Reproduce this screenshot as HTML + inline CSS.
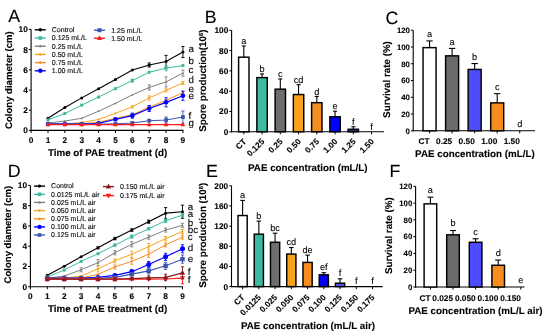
<!DOCTYPE html><html><head><meta charset="utf-8"><style>html,body{margin:0;padding:0;background:#fff;}svg{display:block;will-change:transform;}text{stroke:#000;stroke-width:0.1px;text-rendering:geometricPrecision;}text.lg{stroke-width:0.15px;}text.lt{stroke-width:0.1px;}</style></head><body>
<svg width="550" height="335" viewBox="0 0 550 335" font-family='"Liberation Sans", sans-serif'>
<rect width="550" height="335" fill="#fff"/>
<text x="14.20" y="21.61" font-size="17.8" font-weight="normal" text-anchor="middle" fill="#000">A</text>
<text x="210.80" y="22.71" font-size="17.8" font-weight="normal" text-anchor="middle" fill="#000">B</text>
<text x="391.90" y="23.81" font-size="17.8" font-weight="normal" text-anchor="middle" fill="#000">C</text>
<text x="14.10" y="176.91" font-size="17.8" font-weight="normal" text-anchor="middle" fill="#000">D</text>
<text x="211.90" y="177.01" font-size="17.8" font-weight="normal" text-anchor="middle" fill="#000">E</text>
<text x="394.90" y="177.01" font-size="17.8" font-weight="normal" text-anchor="middle" fill="#000">F</text>
<line x1="31.10" y1="29.40" x2="31.10" y2="130.90" stroke="#000" stroke-width="1.1"/>
<line x1="28.80" y1="130.40" x2="31.10" y2="130.40" stroke="#000" stroke-width="1"/>
<text x="27.80" y="133.39" font-size="8.3" font-weight="bold" text-anchor="end" fill="#000">0</text>
<line x1="28.80" y1="110.20" x2="31.10" y2="110.20" stroke="#000" stroke-width="1"/>
<text x="27.80" y="113.19" font-size="8.3" font-weight="bold" text-anchor="end" fill="#000">2</text>
<line x1="28.80" y1="90.00" x2="31.10" y2="90.00" stroke="#000" stroke-width="1"/>
<text x="27.80" y="92.99" font-size="8.3" font-weight="bold" text-anchor="end" fill="#000">4</text>
<line x1="28.80" y1="69.80" x2="31.10" y2="69.80" stroke="#000" stroke-width="1"/>
<text x="27.80" y="72.79" font-size="8.3" font-weight="bold" text-anchor="end" fill="#000">6</text>
<line x1="28.80" y1="49.60" x2="31.10" y2="49.60" stroke="#000" stroke-width="1"/>
<text x="27.80" y="52.59" font-size="8.3" font-weight="bold" text-anchor="end" fill="#000">8</text>
<line x1="28.80" y1="29.40" x2="31.10" y2="29.40" stroke="#000" stroke-width="1"/>
<text x="27.80" y="32.39" font-size="8.3" font-weight="bold" text-anchor="end" fill="#000">10</text>
<line x1="30.60" y1="130.40" x2="183.43" y2="130.40" stroke="#000" stroke-width="1.1"/>
<line x1="31.10" y1="130.40" x2="31.10" y2="133.00" stroke="#000" stroke-width="1"/>
<text x="31.10" y="142.99" font-size="8.3" font-weight="bold" text-anchor="middle" fill="#000">0</text>
<line x1="47.97" y1="130.40" x2="47.97" y2="133.00" stroke="#000" stroke-width="1"/>
<text x="47.97" y="142.99" font-size="8.3" font-weight="bold" text-anchor="middle" fill="#000">1</text>
<line x1="64.84" y1="130.40" x2="64.84" y2="133.00" stroke="#000" stroke-width="1"/>
<text x="64.84" y="142.99" font-size="8.3" font-weight="bold" text-anchor="middle" fill="#000">2</text>
<line x1="81.71" y1="130.40" x2="81.71" y2="133.00" stroke="#000" stroke-width="1"/>
<text x="81.71" y="142.99" font-size="8.3" font-weight="bold" text-anchor="middle" fill="#000">3</text>
<line x1="98.58" y1="130.40" x2="98.58" y2="133.00" stroke="#000" stroke-width="1"/>
<text x="98.58" y="142.99" font-size="8.3" font-weight="bold" text-anchor="middle" fill="#000">4</text>
<line x1="115.45" y1="130.40" x2="115.45" y2="133.00" stroke="#000" stroke-width="1"/>
<text x="115.45" y="142.99" font-size="8.3" font-weight="bold" text-anchor="middle" fill="#000">5</text>
<line x1="132.32" y1="130.40" x2="132.32" y2="133.00" stroke="#000" stroke-width="1"/>
<text x="132.32" y="142.99" font-size="8.3" font-weight="bold" text-anchor="middle" fill="#000">6</text>
<line x1="149.19" y1="130.40" x2="149.19" y2="133.00" stroke="#000" stroke-width="1"/>
<text x="149.19" y="142.99" font-size="8.3" font-weight="bold" text-anchor="middle" fill="#000">7</text>
<line x1="166.06" y1="130.40" x2="166.06" y2="133.00" stroke="#000" stroke-width="1"/>
<text x="166.06" y="142.99" font-size="8.3" font-weight="bold" text-anchor="middle" fill="#000">8</text>
<line x1="182.93" y1="130.40" x2="182.93" y2="133.00" stroke="#000" stroke-width="1"/>
<text x="182.93" y="142.99" font-size="8.3" font-weight="bold" text-anchor="middle" fill="#000">9</text>
<line x1="149.19" y1="62.93" x2="149.19" y2="66.97" stroke="#000" stroke-width="0.9"/>
<line x1="147.59" y1="62.93" x2="150.79" y2="62.93" stroke="#000" stroke-width="0.9"/>
<line x1="147.59" y1="66.97" x2="150.79" y2="66.97" stroke="#000" stroke-width="0.9"/>
<line x1="166.06" y1="55.36" x2="166.06" y2="67.48" stroke="#000" stroke-width="0.9"/>
<line x1="164.46" y1="55.36" x2="167.66" y2="55.36" stroke="#000" stroke-width="0.9"/>
<line x1="164.46" y1="67.48" x2="167.66" y2="67.48" stroke="#000" stroke-width="0.9"/>
<line x1="182.93" y1="46.47" x2="182.93" y2="57.58" stroke="#000" stroke-width="0.9"/>
<line x1="181.33" y1="46.47" x2="184.53" y2="46.47" stroke="#000" stroke-width="0.9"/>
<line x1="181.33" y1="57.58" x2="184.53" y2="57.58" stroke="#000" stroke-width="0.9"/>
<polyline points="47.97,118.28 64.84,107.47 81.71,97.88 98.58,88.69 115.45,79.50 132.32,70.00 149.19,64.95 166.06,61.42 182.93,52.02" fill="none" stroke="#000" stroke-width="1.1"/>
<circle cx="47.97" cy="118.28" r="1.50" fill="#000"/>
<circle cx="64.84" cy="107.47" r="1.50" fill="#000"/>
<circle cx="81.71" cy="97.88" r="1.50" fill="#000"/>
<circle cx="98.58" cy="88.69" r="1.50" fill="#000"/>
<circle cx="115.45" cy="79.50" r="1.50" fill="#000"/>
<circle cx="132.32" cy="70.00" r="1.50" fill="#000"/>
<circle cx="149.19" cy="64.95" r="1.50" fill="#000"/>
<circle cx="166.06" cy="61.42" r="1.50" fill="#000"/>
<circle cx="182.93" cy="52.02" r="1.50" fill="#000"/>
<line x1="132.32" y1="79.09" x2="132.32" y2="82.12" stroke="#3dbaa2" stroke-width="0.9"/>
<line x1="130.72" y1="79.09" x2="133.92" y2="79.09" stroke="#3dbaa2" stroke-width="0.9"/>
<line x1="130.72" y1="82.12" x2="133.92" y2="82.12" stroke="#3dbaa2" stroke-width="0.9"/>
<line x1="166.06" y1="65.66" x2="166.06" y2="70.71" stroke="#3dbaa2" stroke-width="0.9"/>
<line x1="164.46" y1="65.66" x2="167.66" y2="65.66" stroke="#3dbaa2" stroke-width="0.9"/>
<line x1="164.46" y1="70.71" x2="167.66" y2="70.71" stroke="#3dbaa2" stroke-width="0.9"/>
<polyline points="47.97,119.90 64.84,113.53 81.71,105.15 98.58,97.07 115.45,88.69 132.32,80.61 149.19,72.22 166.06,68.18 182.93,65.56" fill="none" stroke="#3dbaa2" stroke-width="1.0"/>
<rect x="46.47" y="118.40" width="3.00" height="3.00" fill="#3dbaa2"/>
<rect x="63.34" y="112.03" width="3.00" height="3.00" fill="#3dbaa2"/>
<rect x="80.21" y="103.65" width="3.00" height="3.00" fill="#3dbaa2"/>
<rect x="97.08" y="95.57" width="3.00" height="3.00" fill="#3dbaa2"/>
<rect x="113.95" y="87.19" width="3.00" height="3.00" fill="#3dbaa2"/>
<rect x="130.82" y="79.11" width="3.00" height="3.00" fill="#3dbaa2"/>
<rect x="147.69" y="70.72" width="3.00" height="3.00" fill="#3dbaa2"/>
<rect x="164.56" y="66.68" width="3.00" height="3.00" fill="#3dbaa2"/>
<rect x="181.43" y="64.06" width="3.00" height="3.00" fill="#3dbaa2"/>
<line x1="149.19" y1="84.95" x2="149.19" y2="90.00" stroke="#7f7f7f" stroke-width="0.9"/>
<line x1="147.59" y1="84.95" x2="150.79" y2="84.95" stroke="#7f7f7f" stroke-width="0.9"/>
<line x1="147.59" y1="90.00" x2="150.79" y2="90.00" stroke="#7f7f7f" stroke-width="0.9"/>
<line x1="166.06" y1="76.87" x2="166.06" y2="86.97" stroke="#7f7f7f" stroke-width="0.9"/>
<line x1="164.46" y1="76.87" x2="167.66" y2="76.87" stroke="#7f7f7f" stroke-width="0.9"/>
<line x1="164.46" y1="86.97" x2="167.66" y2="86.97" stroke="#7f7f7f" stroke-width="0.9"/>
<line x1="182.93" y1="70.00" x2="182.93" y2="76.06" stroke="#7f7f7f" stroke-width="0.9"/>
<line x1="181.33" y1="70.00" x2="184.53" y2="70.00" stroke="#7f7f7f" stroke-width="0.9"/>
<line x1="181.33" y1="76.06" x2="184.53" y2="76.06" stroke="#7f7f7f" stroke-width="0.9"/>
<polyline points="47.97,123.03 64.84,121.01 81.71,118.28 98.58,111.21 115.45,103.33 132.32,94.85 149.19,87.48 166.06,81.92 182.93,73.03" fill="none" stroke="#7f7f7f" stroke-width="1.0"/>
<polygon points="47.97,121.65 49.17,123.93 46.77,123.93" fill="#7f7f7f"/>
<polygon points="64.84,119.63 66.04,121.91 63.64,121.91" fill="#7f7f7f"/>
<polygon points="81.71,116.90 82.91,119.18 80.51,119.18" fill="#7f7f7f"/>
<polygon points="98.58,109.83 99.78,112.11 97.38,112.11" fill="#7f7f7f"/>
<polygon points="115.45,101.95 116.65,104.23 114.25,104.23" fill="#7f7f7f"/>
<polygon points="132.32,93.47 133.52,95.75 131.12,95.75" fill="#7f7f7f"/>
<polygon points="149.19,86.10 150.39,88.38 147.99,88.38" fill="#7f7f7f"/>
<polygon points="166.06,80.54 167.26,82.82 164.86,82.82" fill="#7f7f7f"/>
<polygon points="182.93,71.65 184.13,73.93 181.73,73.93" fill="#7f7f7f"/>
<line x1="132.32" y1="105.86" x2="132.32" y2="107.88" stroke="#f7a31c" stroke-width="0.9"/>
<line x1="130.72" y1="105.86" x2="133.92" y2="105.86" stroke="#f7a31c" stroke-width="0.9"/>
<line x1="130.72" y1="107.88" x2="133.92" y2="107.88" stroke="#f7a31c" stroke-width="0.9"/>
<line x1="149.19" y1="95.86" x2="149.19" y2="99.90" stroke="#f7a31c" stroke-width="0.9"/>
<line x1="147.59" y1="95.86" x2="150.79" y2="95.86" stroke="#f7a31c" stroke-width="0.9"/>
<line x1="147.59" y1="99.90" x2="150.79" y2="99.90" stroke="#f7a31c" stroke-width="0.9"/>
<line x1="166.06" y1="88.89" x2="166.06" y2="91.92" stroke="#f7a31c" stroke-width="0.9"/>
<line x1="164.46" y1="88.89" x2="167.66" y2="88.89" stroke="#f7a31c" stroke-width="0.9"/>
<line x1="164.46" y1="91.92" x2="167.66" y2="91.92" stroke="#f7a31c" stroke-width="0.9"/>
<line x1="182.93" y1="81.42" x2="182.93" y2="84.45" stroke="#f7a31c" stroke-width="0.9"/>
<line x1="181.33" y1="81.42" x2="184.53" y2="81.42" stroke="#f7a31c" stroke-width="0.9"/>
<line x1="181.33" y1="84.45" x2="184.53" y2="84.45" stroke="#f7a31c" stroke-width="0.9"/>
<polyline points="47.97,124.34 64.84,124.14 81.71,122.52 98.58,119.49 115.45,113.23 132.32,106.87 149.19,97.88 166.06,90.40 182.93,82.93" fill="none" stroke="#f7a31c" stroke-width="1.0"/>
<polygon points="47.97,123.04 49.27,124.34 47.97,125.64 46.67,124.34" fill="#f7a31c"/>
<polygon points="64.84,122.84 66.14,124.14 64.84,125.44 63.54,124.14" fill="#f7a31c"/>
<polygon points="81.71,121.22 83.01,122.52 81.71,123.82 80.41,122.52" fill="#f7a31c"/>
<polygon points="98.58,118.19 99.88,119.49 98.58,120.79 97.28,119.49" fill="#f7a31c"/>
<polygon points="115.45,111.93 116.75,113.23 115.45,114.53 114.15,113.23" fill="#f7a31c"/>
<polygon points="132.32,105.57 133.62,106.87 132.32,108.17 131.02,106.87" fill="#f7a31c"/>
<polygon points="149.19,96.58 150.49,97.88 149.19,99.18 147.89,97.88" fill="#f7a31c"/>
<polygon points="166.06,89.10 167.36,90.40 166.06,91.70 164.76,90.40" fill="#f7a31c"/>
<polygon points="182.93,81.63 184.23,82.93 182.93,84.23 181.63,82.93" fill="#f7a31c"/>
<line x1="149.19" y1="105.66" x2="149.19" y2="108.69" stroke="#f68d21" stroke-width="0.9"/>
<line x1="147.59" y1="105.66" x2="150.79" y2="105.66" stroke="#f68d21" stroke-width="0.9"/>
<line x1="147.59" y1="108.69" x2="150.79" y2="108.69" stroke="#f68d21" stroke-width="0.9"/>
<line x1="166.06" y1="99.39" x2="166.06" y2="101.41" stroke="#f68d21" stroke-width="0.9"/>
<line x1="164.46" y1="99.39" x2="167.66" y2="99.39" stroke="#f68d21" stroke-width="0.9"/>
<line x1="164.46" y1="101.41" x2="167.66" y2="101.41" stroke="#f68d21" stroke-width="0.9"/>
<line x1="182.93" y1="91.01" x2="182.93" y2="94.04" stroke="#f68d21" stroke-width="0.9"/>
<line x1="181.33" y1="91.01" x2="184.53" y2="91.01" stroke="#f68d21" stroke-width="0.9"/>
<line x1="181.33" y1="94.04" x2="184.53" y2="94.04" stroke="#f68d21" stroke-width="0.9"/>
<polyline points="47.97,124.34 64.84,124.34 81.71,123.84 98.58,122.32 115.45,118.28 132.32,114.64 149.19,107.17 166.06,100.40 182.93,92.53" fill="none" stroke="#f68d21" stroke-width="1.0"/>
<polygon points="47.97,123.04 49.27,124.34 47.97,125.64 46.67,124.34" fill="#f68d21"/>
<polygon points="64.84,123.04 66.14,124.34 64.84,125.64 63.54,124.34" fill="#f68d21"/>
<polygon points="81.71,122.54 83.01,123.84 81.71,125.14 80.41,123.84" fill="#f68d21"/>
<polygon points="98.58,121.02 99.88,122.32 98.58,123.62 97.28,122.32" fill="#f68d21"/>
<polygon points="115.45,116.98 116.75,118.28 115.45,119.58 114.15,118.28" fill="#f68d21"/>
<polygon points="132.32,113.34 133.62,114.64 132.32,115.94 131.02,114.64" fill="#f68d21"/>
<polygon points="149.19,105.87 150.49,107.17 149.19,108.47 147.89,107.17" fill="#f68d21"/>
<polygon points="166.06,99.10 167.36,100.40 166.06,101.70 164.76,100.40" fill="#f68d21"/>
<polygon points="182.93,91.23 184.23,92.53 182.93,93.83 181.63,92.53" fill="#f68d21"/>
<line x1="132.32" y1="113.13" x2="132.32" y2="118.18" stroke="#0000ff" stroke-width="0.9"/>
<line x1="130.72" y1="113.13" x2="133.92" y2="113.13" stroke="#0000ff" stroke-width="0.9"/>
<line x1="130.72" y1="118.18" x2="133.92" y2="118.18" stroke="#0000ff" stroke-width="0.9"/>
<line x1="149.19" y1="105.45" x2="149.19" y2="111.51" stroke="#0000ff" stroke-width="0.9"/>
<line x1="147.59" y1="105.45" x2="150.79" y2="105.45" stroke="#0000ff" stroke-width="0.9"/>
<line x1="147.59" y1="111.51" x2="150.79" y2="111.51" stroke="#0000ff" stroke-width="0.9"/>
<line x1="166.06" y1="97.78" x2="166.06" y2="106.87" stroke="#0000ff" stroke-width="0.9"/>
<line x1="164.46" y1="97.78" x2="167.66" y2="97.78" stroke="#0000ff" stroke-width="0.9"/>
<line x1="164.46" y1="106.87" x2="167.66" y2="106.87" stroke="#0000ff" stroke-width="0.9"/>
<line x1="182.93" y1="91.21" x2="182.93" y2="100.30" stroke="#0000ff" stroke-width="0.9"/>
<line x1="181.33" y1="91.21" x2="184.53" y2="91.21" stroke="#0000ff" stroke-width="0.9"/>
<line x1="181.33" y1="100.30" x2="184.53" y2="100.30" stroke="#0000ff" stroke-width="0.9"/>
<polyline points="47.97,123.94 64.84,123.94 81.71,123.94 98.58,123.33 115.45,119.29 132.32,115.65 149.19,108.48 166.06,102.32 182.93,95.76" fill="none" stroke="#0000ff" stroke-width="1.2"/>
<circle cx="47.97" cy="123.94" r="2.30" fill="#0000ff"/>
<circle cx="64.84" cy="123.94" r="2.30" fill="#0000ff"/>
<circle cx="81.71" cy="123.94" r="2.30" fill="#0000ff"/>
<circle cx="98.58" cy="123.33" r="2.30" fill="#0000ff"/>
<circle cx="115.45" cy="119.29" r="2.30" fill="#0000ff"/>
<circle cx="132.32" cy="115.65" r="2.30" fill="#0000ff"/>
<circle cx="149.19" cy="108.48" r="2.30" fill="#0000ff"/>
<circle cx="166.06" cy="102.32" r="2.30" fill="#0000ff"/>
<circle cx="182.93" cy="95.76" r="2.30" fill="#0000ff"/>
<line x1="166.06" y1="116.97" x2="166.06" y2="123.03" stroke="#3a56b0" stroke-width="0.9"/>
<line x1="164.46" y1="116.97" x2="167.66" y2="116.97" stroke="#3a56b0" stroke-width="0.9"/>
<line x1="164.46" y1="123.03" x2="167.66" y2="123.03" stroke="#3a56b0" stroke-width="0.9"/>
<line x1="182.93" y1="111.01" x2="182.93" y2="123.13" stroke="#3a56b0" stroke-width="0.9"/>
<line x1="181.33" y1="111.01" x2="184.53" y2="111.01" stroke="#3a56b0" stroke-width="0.9"/>
<line x1="181.33" y1="123.13" x2="184.53" y2="123.13" stroke="#3a56b0" stroke-width="0.9"/>
<polyline points="47.97,124.14 64.84,124.14 81.71,124.14 98.58,124.14 115.45,123.73 132.32,122.93 149.19,120.70 166.06,120.00 182.93,117.07" fill="none" stroke="#3a56b0" stroke-width="1.1"/>
<rect x="46.07" y="122.24" width="3.80" height="3.80" fill="#3a56b0"/>
<rect x="62.94" y="122.24" width="3.80" height="3.80" fill="#3a56b0"/>
<rect x="79.81" y="122.24" width="3.80" height="3.80" fill="#3a56b0"/>
<rect x="96.68" y="122.24" width="3.80" height="3.80" fill="#3a56b0"/>
<rect x="113.55" y="121.83" width="3.80" height="3.80" fill="#3a56b0"/>
<rect x="130.42" y="121.03" width="3.80" height="3.80" fill="#3a56b0"/>
<rect x="147.29" y="118.80" width="3.80" height="3.80" fill="#3a56b0"/>
<rect x="164.16" y="118.10" width="3.80" height="3.80" fill="#3a56b0"/>
<rect x="181.03" y="115.17" width="3.80" height="3.80" fill="#3a56b0"/>
<polyline points="47.97,124.64 64.84,124.64 81.71,124.64 98.58,124.64 115.45,124.64 132.32,124.64 149.19,124.64 166.06,124.64 182.93,124.64" fill="none" stroke="#ff1a1a" stroke-width="1.2"/>
<polygon points="47.97,122.00 50.27,126.37 45.67,126.37" fill="#ff1a1a"/>
<polygon points="64.84,122.00 67.14,126.37 62.54,126.37" fill="#ff1a1a"/>
<polygon points="81.71,122.00 84.01,126.37 79.41,126.37" fill="#ff1a1a"/>
<polygon points="98.58,122.00 100.88,126.37 96.28,126.37" fill="#ff1a1a"/>
<polygon points="115.45,122.00 117.75,126.37 113.15,126.37" fill="#ff1a1a"/>
<polygon points="132.32,122.00 134.62,126.37 130.02,126.37" fill="#ff1a1a"/>
<polygon points="149.19,122.00 151.49,126.37 146.89,126.37" fill="#ff1a1a"/>
<polygon points="166.06,122.00 168.36,126.37 163.76,126.37" fill="#ff1a1a"/>
<polygon points="182.93,122.00 185.23,126.37 180.63,126.37" fill="#ff1a1a"/>
<text class="lt" x="188.60" y="52.04" font-size="9.8" font-weight="normal" text-anchor="start" fill="#000">a</text>
<text class="lt" x="188.60" y="64.24" font-size="9.8" font-weight="normal" text-anchor="start" fill="#000">b</text>
<text class="lt" x="188.60" y="72.74" font-size="9.8" font-weight="normal" text-anchor="start" fill="#000">c</text>
<text class="lt" x="188.60" y="82.74" font-size="9.8" font-weight="normal" text-anchor="start" fill="#000">d</text>
<text class="lt" x="188.60" y="91.54" font-size="9.8" font-weight="normal" text-anchor="start" fill="#000">e</text>
<text class="lt" x="188.60" y="99.04" font-size="9.8" font-weight="normal" text-anchor="start" fill="#000">e</text>
<text class="lt" x="188.60" y="118.54" font-size="9.8" font-weight="normal" text-anchor="start" fill="#000">f</text>
<text class="lt" x="188.60" y="125.74" font-size="9.8" font-weight="normal" text-anchor="start" fill="#000">g</text>
<line x1="34.80" y1="29.80" x2="45.80" y2="29.80" stroke="#000" stroke-width="1.4"/>
<circle cx="40.30" cy="29.80" r="1.70" fill="#000"/>
<text class="lg" x="51.80" y="32.18" font-size="7.0" font-weight="normal" text-anchor="start" fill="#1a1a1a">Control</text>
<line x1="34.80" y1="38.00" x2="45.80" y2="38.00" stroke="#3dbaa2" stroke-width="1.4"/>
<rect x="38.50" y="36.20" width="3.60" height="3.60" fill="#3dbaa2"/>
<text class="lg" x="51.80" y="40.38" font-size="7.0" font-weight="normal" text-anchor="start" fill="#1a1a1a">0.125 mL/L</text>
<line x1="34.80" y1="46.20" x2="45.80" y2="46.20" stroke="#7f7f7f" stroke-width="1.4"/>
<polygon points="40.30,44.59 41.70,47.25 38.90,47.25" fill="#7f7f7f"/>
<text class="lg" x="51.80" y="48.58" font-size="7.0" font-weight="normal" text-anchor="start" fill="#1a1a1a">0.25 mL/L</text>
<line x1="34.80" y1="54.40" x2="45.80" y2="54.40" stroke="#f7a31c" stroke-width="1.4"/>
<polygon points="40.30,52.80 41.90,54.40 40.30,56.00 38.70,54.40" fill="#f7a31c"/>
<text class="lg" x="51.80" y="56.78" font-size="7.0" font-weight="normal" text-anchor="start" fill="#1a1a1a">0.50 mL/L</text>
<line x1="34.80" y1="62.60" x2="45.80" y2="62.60" stroke="#f68d21" stroke-width="1.4"/>
<polygon points="40.30,61.00 41.90,62.60 40.30,64.20 38.70,62.60" fill="#f68d21"/>
<text class="lg" x="51.80" y="64.98" font-size="7.0" font-weight="normal" text-anchor="start" fill="#1a1a1a">0.75 mL/L</text>
<line x1="34.80" y1="70.80" x2="45.80" y2="70.80" stroke="#0000ff" stroke-width="1.4"/>
<circle cx="40.30" cy="70.80" r="2.20" fill="#0000ff"/>
<text class="lg" x="51.80" y="73.18" font-size="7.0" font-weight="normal" text-anchor="start" fill="#1a1a1a">1.00 mL/L</text>
<line x1="94.00" y1="30.20" x2="105.00" y2="30.20" stroke="#3a56b0" stroke-width="1.4"/>
<rect x="97.50" y="28.20" width="4.00" height="4.00" fill="#3a56b0"/>
<text class="lg" x="111.20" y="32.58" font-size="7.0" font-weight="normal" text-anchor="start" fill="#1a1a1a">1.25 mL/L</text>
<line x1="94.00" y1="38.20" x2="105.00" y2="38.20" stroke="#ff1a1a" stroke-width="1.4"/>
<polygon points="99.50,35.33 102.00,40.08 97.00,40.08" fill="#ff1a1a"/>
<text class="lg" x="111.20" y="40.58" font-size="7.0" font-weight="normal" text-anchor="start" fill="#1a1a1a">1.50 mL/L</text>
<text x="107.60" y="155.63" font-size="9.8" font-weight="bold" text-anchor="middle" fill="#000">Time of PAE treatment (d)</text>
<text x="9.50" y="82.96" font-size="9.55" font-weight="bold" text-anchor="middle" fill="#000" transform="rotate(-90 9.50 80.10)">Colony diameter (cm)</text>
<line x1="30.40" y1="185.40" x2="30.40" y2="287.20" stroke="#000" stroke-width="1.1"/>
<line x1="28.10" y1="286.70" x2="30.40" y2="286.70" stroke="#000" stroke-width="1"/>
<text x="27.10" y="289.69" font-size="8.3" font-weight="bold" text-anchor="end" fill="#000">0</text>
<line x1="28.10" y1="266.44" x2="30.40" y2="266.44" stroke="#000" stroke-width="1"/>
<text x="27.10" y="269.43" font-size="8.3" font-weight="bold" text-anchor="end" fill="#000">2</text>
<line x1="28.10" y1="246.18" x2="30.40" y2="246.18" stroke="#000" stroke-width="1"/>
<text x="27.10" y="249.17" font-size="8.3" font-weight="bold" text-anchor="end" fill="#000">4</text>
<line x1="28.10" y1="225.92" x2="30.40" y2="225.92" stroke="#000" stroke-width="1"/>
<text x="27.10" y="228.91" font-size="8.3" font-weight="bold" text-anchor="end" fill="#000">6</text>
<line x1="28.10" y1="205.66" x2="30.40" y2="205.66" stroke="#000" stroke-width="1"/>
<text x="27.10" y="208.65" font-size="8.3" font-weight="bold" text-anchor="end" fill="#000">8</text>
<line x1="28.10" y1="185.40" x2="30.40" y2="185.40" stroke="#000" stroke-width="1"/>
<text x="27.10" y="188.39" font-size="8.3" font-weight="bold" text-anchor="end" fill="#000">10</text>
<line x1="29.90" y1="286.70" x2="183.00" y2="286.70" stroke="#000" stroke-width="1.1"/>
<line x1="30.40" y1="286.70" x2="30.40" y2="289.30" stroke="#000" stroke-width="1"/>
<text x="30.40" y="299.29" font-size="8.3" font-weight="bold" text-anchor="middle" fill="#000">0</text>
<line x1="47.30" y1="286.70" x2="47.30" y2="289.30" stroke="#000" stroke-width="1"/>
<text x="47.30" y="299.29" font-size="8.3" font-weight="bold" text-anchor="middle" fill="#000">1</text>
<line x1="64.20" y1="286.70" x2="64.20" y2="289.30" stroke="#000" stroke-width="1"/>
<text x="64.20" y="299.29" font-size="8.3" font-weight="bold" text-anchor="middle" fill="#000">2</text>
<line x1="81.10" y1="286.70" x2="81.10" y2="289.30" stroke="#000" stroke-width="1"/>
<text x="81.10" y="299.29" font-size="8.3" font-weight="bold" text-anchor="middle" fill="#000">3</text>
<line x1="98.00" y1="286.70" x2="98.00" y2="289.30" stroke="#000" stroke-width="1"/>
<text x="98.00" y="299.29" font-size="8.3" font-weight="bold" text-anchor="middle" fill="#000">4</text>
<line x1="114.90" y1="286.70" x2="114.90" y2="289.30" stroke="#000" stroke-width="1"/>
<text x="114.90" y="299.29" font-size="8.3" font-weight="bold" text-anchor="middle" fill="#000">5</text>
<line x1="131.80" y1="286.70" x2="131.80" y2="289.30" stroke="#000" stroke-width="1"/>
<text x="131.80" y="299.29" font-size="8.3" font-weight="bold" text-anchor="middle" fill="#000">6</text>
<line x1="148.70" y1="286.70" x2="148.70" y2="289.30" stroke="#000" stroke-width="1"/>
<text x="148.70" y="299.29" font-size="8.3" font-weight="bold" text-anchor="middle" fill="#000">7</text>
<line x1="165.60" y1="286.70" x2="165.60" y2="289.30" stroke="#000" stroke-width="1"/>
<text x="165.60" y="299.29" font-size="8.3" font-weight="bold" text-anchor="middle" fill="#000">8</text>
<line x1="182.50" y1="286.70" x2="182.50" y2="289.30" stroke="#000" stroke-width="1"/>
<text x="182.50" y="299.29" font-size="8.3" font-weight="bold" text-anchor="middle" fill="#000">9</text>
<line x1="98.00" y1="246.79" x2="98.00" y2="248.81" stroke="#000" stroke-width="0.9"/>
<line x1="96.40" y1="246.79" x2="99.60" y2="246.79" stroke="#000" stroke-width="0.9"/>
<line x1="96.40" y1="248.81" x2="99.60" y2="248.81" stroke="#000" stroke-width="0.9"/>
<line x1="114.90" y1="237.37" x2="114.90" y2="239.80" stroke="#000" stroke-width="0.9"/>
<line x1="113.30" y1="237.37" x2="116.50" y2="237.37" stroke="#000" stroke-width="0.9"/>
<line x1="113.30" y1="239.80" x2="116.50" y2="239.80" stroke="#000" stroke-width="0.9"/>
<line x1="131.80" y1="228.86" x2="131.80" y2="231.29" stroke="#000" stroke-width="0.9"/>
<line x1="130.20" y1="228.86" x2="133.40" y2="228.86" stroke="#000" stroke-width="0.9"/>
<line x1="130.20" y1="231.29" x2="133.40" y2="231.29" stroke="#000" stroke-width="0.9"/>
<line x1="148.70" y1="220.15" x2="148.70" y2="223.18" stroke="#000" stroke-width="0.9"/>
<line x1="147.10" y1="220.15" x2="150.30" y2="220.15" stroke="#000" stroke-width="0.9"/>
<line x1="147.10" y1="223.18" x2="150.30" y2="223.18" stroke="#000" stroke-width="0.9"/>
<line x1="165.60" y1="207.58" x2="165.60" y2="218.73" stroke="#000" stroke-width="0.9"/>
<line x1="164.00" y1="207.58" x2="167.20" y2="207.58" stroke="#000" stroke-width="0.9"/>
<line x1="164.00" y1="218.73" x2="167.20" y2="218.73" stroke="#000" stroke-width="0.9"/>
<line x1="182.50" y1="205.15" x2="182.50" y2="218.32" stroke="#000" stroke-width="0.9"/>
<line x1="180.90" y1="205.15" x2="184.10" y2="205.15" stroke="#000" stroke-width="0.9"/>
<line x1="180.90" y1="218.32" x2="184.10" y2="218.32" stroke="#000" stroke-width="0.9"/>
<polyline points="47.30,275.15 64.20,266.24 81.10,256.82 98.00,247.80 114.90,238.58 131.80,230.07 148.70,221.67 165.60,213.16 182.50,211.74" fill="none" stroke="#000" stroke-width="1.1"/>
<circle cx="47.30" cy="275.15" r="1.50" fill="#000"/>
<circle cx="64.20" cy="266.24" r="1.50" fill="#000"/>
<circle cx="81.10" cy="256.82" r="1.50" fill="#000"/>
<circle cx="98.00" cy="247.80" r="1.50" fill="#000"/>
<circle cx="114.90" cy="238.58" r="1.50" fill="#000"/>
<circle cx="131.80" cy="230.07" r="1.50" fill="#000"/>
<circle cx="148.70" cy="221.67" r="1.50" fill="#000"/>
<circle cx="165.60" cy="213.16" r="1.50" fill="#000"/>
<circle cx="182.50" cy="211.74" r="1.50" fill="#000"/>
<line x1="114.90" y1="244.15" x2="114.90" y2="246.18" stroke="#3dbaa2" stroke-width="0.9"/>
<line x1="113.30" y1="244.15" x2="116.50" y2="244.15" stroke="#3dbaa2" stroke-width="0.9"/>
<line x1="113.30" y1="246.18" x2="116.50" y2="246.18" stroke="#3dbaa2" stroke-width="0.9"/>
<line x1="131.80" y1="235.04" x2="131.80" y2="238.08" stroke="#3dbaa2" stroke-width="0.9"/>
<line x1="130.20" y1="235.04" x2="133.40" y2="235.04" stroke="#3dbaa2" stroke-width="0.9"/>
<line x1="130.20" y1="238.08" x2="133.40" y2="238.08" stroke="#3dbaa2" stroke-width="0.9"/>
<line x1="148.70" y1="227.74" x2="148.70" y2="229.77" stroke="#3dbaa2" stroke-width="0.9"/>
<line x1="147.10" y1="227.74" x2="150.30" y2="227.74" stroke="#3dbaa2" stroke-width="0.9"/>
<line x1="147.10" y1="229.77" x2="150.30" y2="229.77" stroke="#3dbaa2" stroke-width="0.9"/>
<line x1="165.60" y1="219.23" x2="165.60" y2="222.27" stroke="#3dbaa2" stroke-width="0.9"/>
<line x1="164.00" y1="219.23" x2="167.20" y2="219.23" stroke="#3dbaa2" stroke-width="0.9"/>
<line x1="164.00" y1="222.27" x2="167.20" y2="222.27" stroke="#3dbaa2" stroke-width="0.9"/>
<line x1="182.50" y1="213.66" x2="182.50" y2="216.70" stroke="#3dbaa2" stroke-width="0.9"/>
<line x1="180.90" y1="213.66" x2="184.10" y2="213.66" stroke="#3dbaa2" stroke-width="0.9"/>
<line x1="180.90" y1="216.70" x2="184.10" y2="216.70" stroke="#3dbaa2" stroke-width="0.9"/>
<polyline points="47.30,276.87 64.20,270.09 81.10,261.38 98.00,253.68 114.90,245.17 131.80,236.56 148.70,228.76 165.60,220.75 182.50,215.18" fill="none" stroke="#3dbaa2" stroke-width="1.0"/>
<rect x="45.80" y="275.37" width="3.00" height="3.00" fill="#3dbaa2"/>
<rect x="62.70" y="268.59" width="3.00" height="3.00" fill="#3dbaa2"/>
<rect x="79.60" y="259.88" width="3.00" height="3.00" fill="#3dbaa2"/>
<rect x="96.50" y="252.18" width="3.00" height="3.00" fill="#3dbaa2"/>
<rect x="113.40" y="243.67" width="3.00" height="3.00" fill="#3dbaa2"/>
<rect x="130.30" y="235.06" width="3.00" height="3.00" fill="#3dbaa2"/>
<rect x="147.20" y="227.26" width="3.00" height="3.00" fill="#3dbaa2"/>
<rect x="164.10" y="219.25" width="3.00" height="3.00" fill="#3dbaa2"/>
<rect x="181.00" y="213.68" width="3.00" height="3.00" fill="#3dbaa2"/>
<line x1="81.10" y1="267.76" x2="81.10" y2="271.81" stroke="#7f7f7f" stroke-width="0.9"/>
<line x1="79.50" y1="267.76" x2="82.70" y2="267.76" stroke="#7f7f7f" stroke-width="0.9"/>
<line x1="79.50" y1="271.81" x2="82.70" y2="271.81" stroke="#7f7f7f" stroke-width="0.9"/>
<line x1="98.00" y1="259.65" x2="98.00" y2="265.73" stroke="#7f7f7f" stroke-width="0.9"/>
<line x1="96.40" y1="259.65" x2="99.60" y2="259.65" stroke="#7f7f7f" stroke-width="0.9"/>
<line x1="96.40" y1="265.73" x2="99.60" y2="265.73" stroke="#7f7f7f" stroke-width="0.9"/>
<line x1="114.90" y1="250.74" x2="114.90" y2="254.79" stroke="#7f7f7f" stroke-width="0.9"/>
<line x1="113.30" y1="250.74" x2="116.50" y2="250.74" stroke="#7f7f7f" stroke-width="0.9"/>
<line x1="113.30" y1="254.79" x2="116.50" y2="254.79" stroke="#7f7f7f" stroke-width="0.9"/>
<line x1="131.80" y1="241.72" x2="131.80" y2="246.79" stroke="#7f7f7f" stroke-width="0.9"/>
<line x1="130.20" y1="241.72" x2="133.40" y2="241.72" stroke="#7f7f7f" stroke-width="0.9"/>
<line x1="130.20" y1="246.79" x2="133.40" y2="246.79" stroke="#7f7f7f" stroke-width="0.9"/>
<line x1="148.70" y1="235.14" x2="148.70" y2="239.19" stroke="#7f7f7f" stroke-width="0.9"/>
<line x1="147.10" y1="235.14" x2="150.30" y2="235.14" stroke="#7f7f7f" stroke-width="0.9"/>
<line x1="147.10" y1="239.19" x2="150.30" y2="239.19" stroke="#7f7f7f" stroke-width="0.9"/>
<line x1="165.60" y1="228.05" x2="165.60" y2="232.10" stroke="#7f7f7f" stroke-width="0.9"/>
<line x1="164.00" y1="228.05" x2="167.20" y2="228.05" stroke="#7f7f7f" stroke-width="0.9"/>
<line x1="164.00" y1="232.10" x2="167.20" y2="232.10" stroke="#7f7f7f" stroke-width="0.9"/>
<line x1="182.50" y1="223.29" x2="182.50" y2="227.34" stroke="#7f7f7f" stroke-width="0.9"/>
<line x1="180.90" y1="223.29" x2="184.10" y2="223.29" stroke="#7f7f7f" stroke-width="0.9"/>
<line x1="180.90" y1="227.34" x2="184.10" y2="227.34" stroke="#7f7f7f" stroke-width="0.9"/>
<polyline points="47.30,278.19 64.20,276.06 81.10,269.78 98.00,262.69 114.90,252.76 131.80,244.26 148.70,237.16 165.60,230.07 182.50,225.31" fill="none" stroke="#7f7f7f" stroke-width="1.0"/>
<polygon points="47.30,276.81 48.50,279.09 46.10,279.09" fill="#7f7f7f"/>
<polygon points="64.20,274.68 65.40,276.96 63.00,276.96" fill="#7f7f7f"/>
<polygon points="81.10,268.40 82.30,270.68 79.90,270.68" fill="#7f7f7f"/>
<polygon points="98.00,261.31 99.20,263.59 96.80,263.59" fill="#7f7f7f"/>
<polygon points="114.90,251.38 116.10,253.66 113.70,253.66" fill="#7f7f7f"/>
<polygon points="131.80,242.88 133.00,245.16 130.60,245.16" fill="#7f7f7f"/>
<polygon points="148.70,235.78 149.90,238.06 147.50,238.06" fill="#7f7f7f"/>
<polygon points="165.60,228.69 166.80,230.97 164.40,230.97" fill="#7f7f7f"/>
<polygon points="182.50,223.93 183.70,226.21 181.30,226.21" fill="#7f7f7f"/>
<line x1="98.00" y1="265.83" x2="98.00" y2="271.91" stroke="#f7a31c" stroke-width="0.9"/>
<line x1="96.40" y1="265.83" x2="99.60" y2="265.83" stroke="#f7a31c" stroke-width="0.9"/>
<line x1="96.40" y1="271.91" x2="99.60" y2="271.91" stroke="#f7a31c" stroke-width="0.9"/>
<line x1="114.90" y1="258.74" x2="114.90" y2="262.79" stroke="#f7a31c" stroke-width="0.9"/>
<line x1="113.30" y1="258.74" x2="116.50" y2="258.74" stroke="#f7a31c" stroke-width="0.9"/>
<line x1="113.30" y1="262.79" x2="116.50" y2="262.79" stroke="#f7a31c" stroke-width="0.9"/>
<line x1="131.80" y1="251.25" x2="131.80" y2="257.32" stroke="#f7a31c" stroke-width="0.9"/>
<line x1="130.20" y1="251.25" x2="133.40" y2="251.25" stroke="#f7a31c" stroke-width="0.9"/>
<line x1="130.20" y1="257.32" x2="133.40" y2="257.32" stroke="#f7a31c" stroke-width="0.9"/>
<line x1="148.70" y1="243.55" x2="148.70" y2="249.62" stroke="#f7a31c" stroke-width="0.9"/>
<line x1="147.10" y1="243.55" x2="150.30" y2="243.55" stroke="#f7a31c" stroke-width="0.9"/>
<line x1="147.10" y1="249.62" x2="150.30" y2="249.62" stroke="#f7a31c" stroke-width="0.9"/>
<line x1="165.60" y1="236.56" x2="165.60" y2="240.61" stroke="#f7a31c" stroke-width="0.9"/>
<line x1="164.00" y1="236.56" x2="167.20" y2="236.56" stroke="#f7a31c" stroke-width="0.9"/>
<line x1="164.00" y1="240.61" x2="167.20" y2="240.61" stroke="#f7a31c" stroke-width="0.9"/>
<line x1="182.50" y1="229.47" x2="182.50" y2="233.52" stroke="#f7a31c" stroke-width="0.9"/>
<line x1="180.90" y1="229.47" x2="184.10" y2="229.47" stroke="#f7a31c" stroke-width="0.9"/>
<line x1="180.90" y1="233.52" x2="184.10" y2="233.52" stroke="#f7a31c" stroke-width="0.9"/>
<polyline points="47.30,278.19 64.20,278.19 81.10,276.06 98.00,268.87 114.90,260.77 131.80,254.28 148.70,246.59 165.60,238.58 182.50,231.49" fill="none" stroke="#f7a31c" stroke-width="1.0"/>
<polygon points="47.30,276.89 48.60,278.19 47.30,279.49 46.00,278.19" fill="#f7a31c"/>
<polygon points="64.20,276.89 65.50,278.19 64.20,279.49 62.90,278.19" fill="#f7a31c"/>
<polygon points="81.10,274.76 82.40,276.06 81.10,277.36 79.80,276.06" fill="#f7a31c"/>
<polygon points="98.00,267.57 99.30,268.87 98.00,270.17 96.70,268.87" fill="#f7a31c"/>
<polygon points="114.90,259.47 116.20,260.77 114.90,262.07 113.60,260.77" fill="#f7a31c"/>
<polygon points="131.80,252.98 133.10,254.28 131.80,255.58 130.50,254.28" fill="#f7a31c"/>
<polygon points="148.70,245.29 150.00,246.59 148.70,247.89 147.40,246.59" fill="#f7a31c"/>
<polygon points="165.60,237.28 166.90,238.58 165.60,239.88 164.30,238.58" fill="#f7a31c"/>
<polygon points="182.50,230.19 183.80,231.49 182.50,232.79 181.20,231.49" fill="#f7a31c"/>
<line x1="114.90" y1="264.92" x2="114.90" y2="268.97" stroke="#f68d21" stroke-width="0.9"/>
<line x1="113.30" y1="264.92" x2="116.50" y2="264.92" stroke="#f68d21" stroke-width="0.9"/>
<line x1="113.30" y1="268.97" x2="116.50" y2="268.97" stroke="#f68d21" stroke-width="0.9"/>
<line x1="131.80" y1="258.23" x2="131.80" y2="264.31" stroke="#f68d21" stroke-width="0.9"/>
<line x1="130.20" y1="258.23" x2="133.40" y2="258.23" stroke="#f68d21" stroke-width="0.9"/>
<line x1="130.20" y1="264.31" x2="133.40" y2="264.31" stroke="#f68d21" stroke-width="0.9"/>
<line x1="148.70" y1="251.25" x2="148.70" y2="257.32" stroke="#f68d21" stroke-width="0.9"/>
<line x1="147.10" y1="251.25" x2="150.30" y2="251.25" stroke="#f68d21" stroke-width="0.9"/>
<line x1="147.10" y1="257.32" x2="150.30" y2="257.32" stroke="#f68d21" stroke-width="0.9"/>
<line x1="165.60" y1="242.84" x2="165.60" y2="246.89" stroke="#f68d21" stroke-width="0.9"/>
<line x1="164.00" y1="242.84" x2="167.20" y2="242.84" stroke="#f68d21" stroke-width="0.9"/>
<line x1="164.00" y1="246.89" x2="167.20" y2="246.89" stroke="#f68d21" stroke-width="0.9"/>
<line x1="182.50" y1="235.14" x2="182.50" y2="239.19" stroke="#f68d21" stroke-width="0.9"/>
<line x1="180.90" y1="235.14" x2="184.10" y2="235.14" stroke="#f68d21" stroke-width="0.9"/>
<line x1="180.90" y1="239.19" x2="184.10" y2="239.19" stroke="#f68d21" stroke-width="0.9"/>
<polyline points="47.30,278.19 64.20,278.19 81.10,278.19 98.00,274.24 114.90,266.95 131.80,261.27 148.70,254.28 165.60,244.86 182.50,237.16" fill="none" stroke="#f68d21" stroke-width="1.0"/>
<polygon points="47.30,276.89 48.60,278.19 47.30,279.49 46.00,278.19" fill="#f68d21"/>
<polygon points="64.20,276.89 65.50,278.19 64.20,279.49 62.90,278.19" fill="#f68d21"/>
<polygon points="81.10,276.89 82.40,278.19 81.10,279.49 79.80,278.19" fill="#f68d21"/>
<polygon points="98.00,272.94 99.30,274.24 98.00,275.54 96.70,274.24" fill="#f68d21"/>
<polygon points="114.90,265.65 116.20,266.95 114.90,268.25 113.60,266.95" fill="#f68d21"/>
<polygon points="131.80,259.97 133.10,261.27 131.80,262.57 130.50,261.27" fill="#f68d21"/>
<polygon points="148.70,252.98 150.00,254.28 148.70,255.58 147.40,254.28" fill="#f68d21"/>
<polygon points="165.60,243.56 166.90,244.86 165.60,246.16 164.30,244.86" fill="#f68d21"/>
<polygon points="182.50,235.86 183.80,237.16 182.50,238.46 181.20,237.16" fill="#f68d21"/>
<line x1="131.80" y1="269.68" x2="131.80" y2="273.73" stroke="#0000ff" stroke-width="0.9"/>
<line x1="130.20" y1="269.68" x2="133.40" y2="269.68" stroke="#0000ff" stroke-width="0.9"/>
<line x1="130.20" y1="273.73" x2="133.40" y2="273.73" stroke="#0000ff" stroke-width="0.9"/>
<line x1="148.70" y1="261.48" x2="148.70" y2="267.55" stroke="#0000ff" stroke-width="0.9"/>
<line x1="147.10" y1="261.48" x2="150.30" y2="261.48" stroke="#0000ff" stroke-width="0.9"/>
<line x1="147.10" y1="267.55" x2="150.30" y2="267.55" stroke="#0000ff" stroke-width="0.9"/>
<line x1="165.60" y1="253.27" x2="165.60" y2="260.36" stroke="#0000ff" stroke-width="0.9"/>
<line x1="164.00" y1="253.27" x2="167.20" y2="253.27" stroke="#0000ff" stroke-width="0.9"/>
<line x1="164.00" y1="260.36" x2="167.20" y2="260.36" stroke="#0000ff" stroke-width="0.9"/>
<line x1="182.50" y1="244.76" x2="182.50" y2="252.87" stroke="#0000ff" stroke-width="0.9"/>
<line x1="180.90" y1="244.76" x2="184.10" y2="244.76" stroke="#0000ff" stroke-width="0.9"/>
<line x1="180.90" y1="252.87" x2="184.10" y2="252.87" stroke="#0000ff" stroke-width="0.9"/>
<polyline points="47.30,278.19 64.20,278.19 81.10,278.19 98.00,277.38 114.90,275.46 131.80,271.71 148.70,264.52 165.60,256.82 182.50,248.81" fill="none" stroke="#0000ff" stroke-width="1.2"/>
<circle cx="47.30" cy="278.19" r="2.50" fill="#0000ff"/>
<circle cx="64.20" cy="278.19" r="2.50" fill="#0000ff"/>
<circle cx="81.10" cy="278.19" r="2.50" fill="#0000ff"/>
<circle cx="98.00" cy="277.38" r="2.50" fill="#0000ff"/>
<circle cx="114.90" cy="275.46" r="2.50" fill="#0000ff"/>
<circle cx="131.80" cy="271.71" r="2.50" fill="#0000ff"/>
<circle cx="148.70" cy="264.52" r="2.50" fill="#0000ff"/>
<circle cx="165.60" cy="256.82" r="2.50" fill="#0000ff"/>
<circle cx="182.50" cy="248.81" r="2.50" fill="#0000ff"/>
<line x1="131.80" y1="272.62" x2="131.80" y2="275.66" stroke="#3a56b0" stroke-width="0.9"/>
<line x1="130.20" y1="272.62" x2="133.40" y2="272.62" stroke="#3a56b0" stroke-width="0.9"/>
<line x1="130.20" y1="275.66" x2="133.40" y2="275.66" stroke="#3a56b0" stroke-width="0.9"/>
<line x1="148.70" y1="267.86" x2="148.70" y2="273.94" stroke="#3a56b0" stroke-width="0.9"/>
<line x1="147.10" y1="267.86" x2="150.30" y2="267.86" stroke="#3a56b0" stroke-width="0.9"/>
<line x1="147.10" y1="273.94" x2="150.30" y2="273.94" stroke="#3a56b0" stroke-width="0.9"/>
<line x1="165.60" y1="262.29" x2="165.60" y2="269.38" stroke="#3a56b0" stroke-width="0.9"/>
<line x1="164.00" y1="262.29" x2="167.20" y2="262.29" stroke="#3a56b0" stroke-width="0.9"/>
<line x1="164.00" y1="269.38" x2="167.20" y2="269.38" stroke="#3a56b0" stroke-width="0.9"/>
<line x1="182.50" y1="255.09" x2="182.50" y2="263.20" stroke="#3a56b0" stroke-width="0.9"/>
<line x1="180.90" y1="255.09" x2="184.10" y2="255.09" stroke="#3a56b0" stroke-width="0.9"/>
<line x1="180.90" y1="263.20" x2="184.10" y2="263.20" stroke="#3a56b0" stroke-width="0.9"/>
<polyline points="47.30,278.19 64.20,278.19 81.10,278.19 98.00,278.19 114.90,277.38 131.80,274.14 148.70,270.90 165.60,265.83 182.50,259.15" fill="none" stroke="#3a56b0" stroke-width="1.1"/>
<rect x="45.10" y="275.99" width="4.40" height="4.40" fill="#3a56b0"/>
<rect x="62.00" y="275.99" width="4.40" height="4.40" fill="#3a56b0"/>
<rect x="78.90" y="275.99" width="4.40" height="4.40" fill="#3a56b0"/>
<rect x="95.80" y="275.99" width="4.40" height="4.40" fill="#3a56b0"/>
<rect x="112.70" y="275.18" width="4.40" height="4.40" fill="#3a56b0"/>
<rect x="129.60" y="271.94" width="4.40" height="4.40" fill="#3a56b0"/>
<rect x="146.50" y="268.70" width="4.40" height="4.40" fill="#3a56b0"/>
<rect x="163.40" y="263.63" width="4.40" height="4.40" fill="#3a56b0"/>
<rect x="180.30" y="256.95" width="4.40" height="4.40" fill="#3a56b0"/>
<line x1="182.50" y1="272.62" x2="182.50" y2="283.76" stroke="#ff1a1a" stroke-width="0.9"/>
<line x1="180.90" y1="272.62" x2="184.10" y2="272.62" stroke="#ff1a1a" stroke-width="0.9"/>
<line x1="180.90" y1="283.76" x2="184.10" y2="283.76" stroke="#ff1a1a" stroke-width="0.9"/>
<polyline points="47.30,279.20 64.20,279.20 81.10,279.20 98.00,279.20 114.90,279.20 131.80,279.20 148.70,279.20 165.60,279.00 182.50,278.19" fill="none" stroke="#ff1a1a" stroke-width="1.2"/>
<polygon points="47.30,282.08 49.80,277.33 44.80,277.33" fill="#ff1a1a"/>
<polygon points="64.20,282.08 66.70,277.33 61.70,277.33" fill="#ff1a1a"/>
<polygon points="81.10,282.08 83.60,277.33 78.60,277.33" fill="#ff1a1a"/>
<polygon points="98.00,282.08 100.50,277.33 95.50,277.33" fill="#ff1a1a"/>
<polygon points="114.90,282.08 117.40,277.33 112.40,277.33" fill="#ff1a1a"/>
<polygon points="131.80,282.08 134.30,277.33 129.30,277.33" fill="#ff1a1a"/>
<polygon points="148.70,282.08 151.20,277.33 146.20,277.33" fill="#ff1a1a"/>
<polygon points="165.60,281.88 168.10,277.13 163.10,277.13" fill="#ff1a1a"/>
<polygon points="182.50,281.07 185.00,276.32 180.00,276.32" fill="#ff1a1a"/>
<line x1="148.70" y1="275.86" x2="148.70" y2="279.91" stroke="#8b1c1c" stroke-width="0.9"/>
<line x1="147.10" y1="275.86" x2="150.30" y2="275.86" stroke="#8b1c1c" stroke-width="0.9"/>
<line x1="147.10" y1="279.91" x2="150.30" y2="279.91" stroke="#8b1c1c" stroke-width="0.9"/>
<line x1="165.60" y1="274.24" x2="165.60" y2="280.32" stroke="#8b1c1c" stroke-width="0.9"/>
<line x1="164.00" y1="274.24" x2="167.20" y2="274.24" stroke="#8b1c1c" stroke-width="0.9"/>
<line x1="164.00" y1="280.32" x2="167.20" y2="280.32" stroke="#8b1c1c" stroke-width="0.9"/>
<line x1="182.50" y1="266.74" x2="182.50" y2="278.90" stroke="#8b1c1c" stroke-width="0.9"/>
<line x1="180.90" y1="266.74" x2="184.10" y2="266.74" stroke="#8b1c1c" stroke-width="0.9"/>
<line x1="180.90" y1="278.90" x2="184.10" y2="278.90" stroke="#8b1c1c" stroke-width="0.9"/>
<polyline points="47.30,279.20 64.20,279.20 81.10,279.20 98.00,279.20 114.90,279.20 131.80,278.60 148.70,277.89 165.60,277.28 182.50,272.82" fill="none" stroke="#8b1c1c" stroke-width="1.2"/>
<polygon points="47.30,276.21 49.90,281.15 44.70,281.15" fill="#8b1c1c"/>
<polygon points="64.20,276.21 66.80,281.15 61.60,281.15" fill="#8b1c1c"/>
<polygon points="81.10,276.21 83.70,281.15 78.50,281.15" fill="#8b1c1c"/>
<polygon points="98.00,276.21 100.60,281.15 95.40,281.15" fill="#8b1c1c"/>
<polygon points="114.90,276.21 117.50,281.15 112.30,281.15" fill="#8b1c1c"/>
<polygon points="131.80,275.61 134.40,280.55 129.20,280.55" fill="#8b1c1c"/>
<polygon points="148.70,274.90 151.30,279.84 146.10,279.84" fill="#8b1c1c"/>
<polygon points="165.60,274.29 168.20,279.23 163.00,279.23" fill="#8b1c1c"/>
<polygon points="182.50,269.83 185.10,274.77 179.90,274.77" fill="#8b1c1c"/>
<text class="lt" x="187.80" y="209.74" font-size="9.8" font-weight="normal" text-anchor="start" fill="#000">a</text>
<text class="lt" x="187.80" y="217.14" font-size="9.8" font-weight="normal" text-anchor="start" fill="#000">a</text>
<text class="lt" x="187.80" y="225.94" font-size="9.8" font-weight="normal" text-anchor="start" fill="#000">b</text>
<text class="lt" x="187.80" y="233.34" font-size="9.8" font-weight="normal" text-anchor="start" fill="#000">bc</text>
<text class="lt" x="187.80" y="240.04" font-size="9.8" font-weight="normal" text-anchor="start" fill="#000">c</text>
<text class="lt" x="187.80" y="251.14" font-size="9.8" font-weight="normal" text-anchor="start" fill="#000">d</text>
<text class="lt" x="187.80" y="261.54" font-size="9.8" font-weight="normal" text-anchor="start" fill="#000">e</text>
<text class="lt" x="187.80" y="274.74" font-size="9.8" font-weight="normal" text-anchor="start" fill="#000">f</text>
<text class="lt" x="187.80" y="282.74" font-size="9.8" font-weight="normal" text-anchor="start" fill="#000">f</text>
<line x1="34.00" y1="186.10" x2="45.00" y2="186.10" stroke="#000" stroke-width="1.4"/>
<circle cx="39.50" cy="186.10" r="1.70" fill="#000"/>
<text class="lg" x="51.10" y="188.48" font-size="7.0" font-weight="normal" text-anchor="start" fill="#1a1a1a">Control</text>
<line x1="34.00" y1="194.30" x2="45.00" y2="194.30" stroke="#3dbaa2" stroke-width="1.4"/>
<rect x="37.70" y="192.50" width="3.60" height="3.60" fill="#3dbaa2"/>
<text class="lg" x="51.10" y="196.68" font-size="7.0" font-weight="normal" text-anchor="start" fill="#1a1a1a">0.0125 mL/L air</text>
<line x1="34.00" y1="202.40" x2="45.00" y2="202.40" stroke="#7f7f7f" stroke-width="1.4"/>
<polygon points="39.50,200.79 40.90,203.45 38.10,203.45" fill="#7f7f7f"/>
<text class="lg" x="51.10" y="204.78" font-size="7.0" font-weight="normal" text-anchor="start" fill="#1a1a1a">0.025 mL/L air</text>
<line x1="34.00" y1="210.60" x2="45.00" y2="210.60" stroke="#f7a31c" stroke-width="1.4"/>
<polygon points="39.50,209.00 41.10,210.60 39.50,212.20 37.90,210.60" fill="#f7a31c"/>
<text class="lg" x="51.10" y="212.98" font-size="7.0" font-weight="normal" text-anchor="start" fill="#1a1a1a">0.050 mL/L air</text>
<line x1="34.00" y1="218.80" x2="45.00" y2="218.80" stroke="#f68d21" stroke-width="1.4"/>
<polygon points="39.50,217.20 41.10,218.80 39.50,220.40 37.90,218.80" fill="#f68d21"/>
<text class="lg" x="51.10" y="221.18" font-size="7.0" font-weight="normal" text-anchor="start" fill="#1a1a1a">0.075 mL/L air</text>
<line x1="34.00" y1="226.90" x2="45.00" y2="226.90" stroke="#0000ff" stroke-width="1.4"/>
<circle cx="39.50" cy="226.90" r="2.20" fill="#0000ff"/>
<text class="lg" x="51.10" y="229.28" font-size="7.0" font-weight="normal" text-anchor="start" fill="#1a1a1a">0.100 mL/L air</text>
<line x1="34.00" y1="235.00" x2="45.00" y2="235.00" stroke="#3a56b0" stroke-width="1.4"/>
<rect x="37.70" y="233.20" width="3.60" height="3.60" fill="#3a56b0"/>
<text class="lg" x="51.10" y="237.38" font-size="7.0" font-weight="normal" text-anchor="start" fill="#1a1a1a">0.125 mL/L air</text>
<line x1="103.00" y1="186.60" x2="114.00" y2="186.60" stroke="#8b1c1c" stroke-width="1.4"/>
<polygon points="108.50,183.61 111.10,188.55 105.90,188.55" fill="#8b1c1c"/>
<text class="lg" x="120.00" y="188.98" font-size="7.0" font-weight="normal" text-anchor="start" fill="#1a1a1a">0.150 mL/L air</text>
<line x1="103.00" y1="195.60" x2="114.00" y2="195.60" stroke="#ff1a1a" stroke-width="1.4"/>
<polygon points="108.50,198.59 111.10,193.65 105.90,193.65" fill="#ff1a1a"/>
<text class="lg" x="120.00" y="197.98" font-size="7.0" font-weight="normal" text-anchor="start" fill="#1a1a1a">0.175 mL/L air</text>
<text x="107.60" y="312.13" font-size="9.8" font-weight="bold" text-anchor="middle" fill="#000">Time of PAE treatment (d)</text>
<text x="8.60" y="237.47" font-size="9.55" font-weight="bold" text-anchor="middle" fill="#000" transform="rotate(-90 8.60 234.60)">Colony diameter (cm)</text>
<line x1="231.60" y1="30.30" x2="231.60" y2="132.30" stroke="#000" stroke-width="1.1"/>
<line x1="229.30" y1="131.80" x2="231.60" y2="131.80" stroke="#000" stroke-width="1"/>
<text x="228.30" y="134.79" font-size="8.3" font-weight="bold" text-anchor="end" fill="#000">0</text>
<line x1="229.30" y1="111.50" x2="231.60" y2="111.50" stroke="#000" stroke-width="1"/>
<text x="228.30" y="114.49" font-size="8.3" font-weight="bold" text-anchor="end" fill="#000">20</text>
<line x1="229.30" y1="91.20" x2="231.60" y2="91.20" stroke="#000" stroke-width="1"/>
<text x="228.30" y="94.19" font-size="8.3" font-weight="bold" text-anchor="end" fill="#000">40</text>
<line x1="229.30" y1="70.90" x2="231.60" y2="70.90" stroke="#000" stroke-width="1"/>
<text x="228.30" y="73.89" font-size="8.3" font-weight="bold" text-anchor="end" fill="#000">60</text>
<line x1="229.30" y1="50.60" x2="231.60" y2="50.60" stroke="#000" stroke-width="1"/>
<text x="228.30" y="53.59" font-size="8.3" font-weight="bold" text-anchor="end" fill="#000">80</text>
<line x1="229.30" y1="30.30" x2="231.60" y2="30.30" stroke="#000" stroke-width="1"/>
<text x="228.30" y="33.29" font-size="8.3" font-weight="bold" text-anchor="end" fill="#000">100</text>
<line x1="231.10" y1="131.80" x2="384.00" y2="131.80" stroke="#000" stroke-width="1.1"/>
<line x1="243.80" y1="46.03" x2="243.80" y2="57.20" stroke="#000" stroke-width="1.1"/>
<line x1="241.80" y1="46.03" x2="245.80" y2="46.03" stroke="#000" stroke-width="1.1"/>
<rect x="238.60" y="57.20" width="10.40" height="74.60" fill="#fff" stroke="#000" stroke-width="1.45"/>
<line x1="243.80" y1="131.80" x2="243.80" y2="134.40" stroke="#000" stroke-width="1"/>
<text class="lt" x="243.80" y="44.23" font-size="9.2" text-anchor="middle">a</text>
<text x="246.80" y="142.10" font-size="8.3" font-weight="bold" text-anchor="end" transform="rotate(-45 246.80 142.10)">CT</text>
<line x1="262.05" y1="73.95" x2="262.05" y2="77.60" stroke="#000" stroke-width="1.1"/>
<line x1="260.05" y1="73.95" x2="264.05" y2="73.95" stroke="#000" stroke-width="1.1"/>
<rect x="256.85" y="77.60" width="10.40" height="54.20" fill="#3dbaa2" stroke="#000" stroke-width="1.45"/>
<line x1="262.05" y1="131.80" x2="262.05" y2="134.40" stroke="#000" stroke-width="1"/>
<text class="lt" x="262.05" y="72.15" font-size="9.2" text-anchor="middle">b</text>
<text x="265.05" y="142.10" font-size="8.3" font-weight="bold" text-anchor="end" transform="rotate(-45 265.05 142.10)">0.125</text>
<line x1="280.30" y1="79.02" x2="280.30" y2="89.17" stroke="#000" stroke-width="1.1"/>
<line x1="278.30" y1="79.02" x2="282.30" y2="79.02" stroke="#000" stroke-width="1.1"/>
<rect x="275.10" y="89.17" width="10.40" height="42.63" fill="#6e6e6e" stroke="#000" stroke-width="1.45"/>
<line x1="280.30" y1="131.80" x2="280.30" y2="134.40" stroke="#000" stroke-width="1"/>
<text class="lt" x="280.30" y="77.22" font-size="9.2" text-anchor="middle">c</text>
<text x="283.30" y="142.10" font-size="8.3" font-weight="bold" text-anchor="end" transform="rotate(-45 283.30 142.10)">0.25</text>
<line x1="298.55" y1="84.70" x2="298.55" y2="94.55" stroke="#000" stroke-width="1.1"/>
<line x1="296.55" y1="84.70" x2="300.55" y2="84.70" stroke="#000" stroke-width="1.1"/>
<rect x="293.35" y="94.55" width="10.40" height="37.25" fill="#f7a31c" stroke="#000" stroke-width="1.45"/>
<line x1="298.55" y1="131.80" x2="298.55" y2="134.40" stroke="#000" stroke-width="1"/>
<text class="lt" x="298.55" y="82.90" font-size="9.2" text-anchor="middle">cd</text>
<text x="301.55" y="142.10" font-size="8.3" font-weight="bold" text-anchor="end" transform="rotate(-45 301.55 142.10)">0.50</text>
<line x1="316.80" y1="96.48" x2="316.80" y2="102.67" stroke="#000" stroke-width="1.1"/>
<line x1="314.80" y1="96.48" x2="318.80" y2="96.48" stroke="#000" stroke-width="1.1"/>
<rect x="311.60" y="102.67" width="10.40" height="29.13" fill="#f68d21" stroke="#000" stroke-width="1.45"/>
<line x1="316.80" y1="131.80" x2="316.80" y2="134.40" stroke="#000" stroke-width="1"/>
<text class="lt" x="316.80" y="94.68" font-size="9.2" text-anchor="middle">d</text>
<text x="319.80" y="142.10" font-size="8.3" font-weight="bold" text-anchor="end" transform="rotate(-45 319.80 142.10)">0.75</text>
<line x1="335.05" y1="111.20" x2="335.05" y2="116.78" stroke="#000" stroke-width="1.1"/>
<line x1="333.05" y1="111.20" x2="337.05" y2="111.20" stroke="#000" stroke-width="1.1"/>
<rect x="329.85" y="116.78" width="10.40" height="15.02" fill="#0000ff" stroke="#000" stroke-width="1.45"/>
<line x1="335.05" y1="131.80" x2="335.05" y2="134.40" stroke="#000" stroke-width="1"/>
<text class="lt" x="335.05" y="109.40" font-size="9.2" text-anchor="middle">e</text>
<text x="338.05" y="142.10" font-size="8.3" font-weight="bold" text-anchor="end" transform="rotate(-45 338.05 142.10)">1.00</text>
<line x1="353.30" y1="126.73" x2="353.30" y2="129.26" stroke="#000" stroke-width="1.1"/>
<line x1="351.30" y1="126.73" x2="355.30" y2="126.73" stroke="#000" stroke-width="1.1"/>
<rect x="348.10" y="129.26" width="10.40" height="2.54" fill="#1f2a80" stroke="#000" stroke-width="1.45"/>
<line x1="353.30" y1="131.80" x2="353.30" y2="134.40" stroke="#000" stroke-width="1"/>
<text class="lt" x="353.30" y="124.93" font-size="9.2" text-anchor="middle">f</text>
<text x="356.30" y="142.10" font-size="8.3" font-weight="bold" text-anchor="end" transform="rotate(-45 356.30 142.10)">1.25</text>
<line x1="371.55" y1="131.80" x2="371.55" y2="134.40" stroke="#000" stroke-width="1"/>
<text class="lt" x="371.55" y="130.00" font-size="9.2" text-anchor="middle">f</text>
<text x="374.55" y="142.10" font-size="8.3" font-weight="bold" text-anchor="end" transform="rotate(-45 374.55 142.10)">1.50</text>
<text x="307.80" y="171.23" font-size="9.8" font-weight="bold" text-anchor="middle" fill="#000">PAE concentration (mL/L)</text>
<text x="202.80" y="83.54" font-size="9.8" font-weight="bold" text-anchor="middle" transform="rotate(-90 202.80 80.60)">Spore production(10<tspan font-size="6" dy="-2.9">6</tspan><tspan dy="2.9">)</tspan></text>
<line x1="413.20" y1="30.20" x2="413.20" y2="131.30" stroke="#000" stroke-width="1.1"/>
<line x1="410.90" y1="130.80" x2="413.20" y2="130.80" stroke="#000" stroke-width="1"/>
<text x="409.90" y="133.61" font-size="7.8" font-weight="bold" text-anchor="end" fill="#000">0</text>
<line x1="410.90" y1="114.03" x2="413.20" y2="114.03" stroke="#000" stroke-width="1"/>
<text x="409.90" y="116.84" font-size="7.8" font-weight="bold" text-anchor="end" fill="#000">20</text>
<line x1="410.90" y1="97.27" x2="413.20" y2="97.27" stroke="#000" stroke-width="1"/>
<text x="409.90" y="100.08" font-size="7.8" font-weight="bold" text-anchor="end" fill="#000">40</text>
<line x1="410.90" y1="80.50" x2="413.20" y2="80.50" stroke="#000" stroke-width="1"/>
<text x="409.90" y="83.31" font-size="7.8" font-weight="bold" text-anchor="end" fill="#000">60</text>
<line x1="410.90" y1="63.74" x2="413.20" y2="63.74" stroke="#000" stroke-width="1"/>
<text x="409.90" y="66.54" font-size="7.8" font-weight="bold" text-anchor="end" fill="#000">80</text>
<line x1="410.90" y1="46.97" x2="413.20" y2="46.97" stroke="#000" stroke-width="1"/>
<text x="409.90" y="49.78" font-size="7.8" font-weight="bold" text-anchor="end" fill="#000">100</text>
<line x1="410.90" y1="30.20" x2="413.20" y2="30.20" stroke="#000" stroke-width="1"/>
<text x="409.90" y="33.01" font-size="7.8" font-weight="bold" text-anchor="end" fill="#000">120</text>
<line x1="412.70" y1="130.80" x2="535.00" y2="130.80" stroke="#000" stroke-width="1.1"/>
<line x1="429.55" y1="40.93" x2="429.55" y2="47.64" stroke="#000" stroke-width="1.1"/>
<line x1="426.35" y1="40.93" x2="432.75" y2="40.93" stroke="#000" stroke-width="1.1"/>
<rect x="423.05" y="47.64" width="13.00" height="83.16" fill="#fff" stroke="#000" stroke-width="1.45"/>
<line x1="429.55" y1="130.80" x2="429.55" y2="133.40" stroke="#000" stroke-width="1"/>
<text class="lt" x="429.55" y="37.33" font-size="9.2" text-anchor="middle">a</text>
<text x="429.65" y="144.19" font-size="8.3" font-weight="bold" text-anchor="end" fill="#000">CT</text>
<line x1="452.10" y1="48.40" x2="452.10" y2="55.86" stroke="#000" stroke-width="1.1"/>
<line x1="448.90" y1="48.40" x2="455.30" y2="48.40" stroke="#000" stroke-width="1.1"/>
<rect x="445.60" y="55.86" width="13.00" height="74.94" fill="#6b6b6b" stroke="#000" stroke-width="1.45"/>
<line x1="452.10" y1="130.80" x2="452.10" y2="133.40" stroke="#000" stroke-width="1"/>
<text class="lt" x="452.10" y="44.80" font-size="9.2" text-anchor="middle">a</text>
<text x="452.20" y="144.19" font-size="8.3" font-weight="bold" text-anchor="end" fill="#000">0.25</text>
<line x1="474.65" y1="63.57" x2="474.65" y2="69.44" stroke="#000" stroke-width="1.1"/>
<line x1="471.45" y1="63.57" x2="477.85" y2="63.57" stroke="#000" stroke-width="1.1"/>
<rect x="468.15" y="69.44" width="13.00" height="61.36" fill="#4d4dff" stroke="#000" stroke-width="1.45"/>
<line x1="474.65" y1="130.80" x2="474.65" y2="133.40" stroke="#000" stroke-width="1"/>
<text class="lt" x="474.65" y="59.97" font-size="9.2" text-anchor="middle">b</text>
<text x="474.75" y="144.19" font-size="8.3" font-weight="bold" text-anchor="end" fill="#000">0.50</text>
<line x1="497.20" y1="93.66" x2="497.20" y2="102.88" stroke="#000" stroke-width="1.1"/>
<line x1="494.00" y1="93.66" x2="500.40" y2="93.66" stroke="#000" stroke-width="1.1"/>
<rect x="490.70" y="102.88" width="13.00" height="27.92" fill="#f68d21" stroke="#000" stroke-width="1.45"/>
<line x1="497.20" y1="130.80" x2="497.20" y2="133.40" stroke="#000" stroke-width="1"/>
<text class="lt" x="497.20" y="90.06" font-size="9.2" text-anchor="middle">c</text>
<text x="497.30" y="144.19" font-size="8.3" font-weight="bold" text-anchor="end" fill="#000">1.00</text>
<line x1="519.75" y1="130.80" x2="519.75" y2="133.40" stroke="#000" stroke-width="1"/>
<text class="lt" x="519.75" y="127.20" font-size="9.2" text-anchor="middle">d</text>
<text x="519.85" y="144.19" font-size="8.3" font-weight="bold" text-anchor="end" fill="#000">1.50</text>
<text x="474.90" y="157.03" font-size="9.8" font-weight="bold" text-anchor="middle" fill="#000">PAE concentration (mL/L)</text>
<text x="387.30" y="82.44" font-size="9.8" font-weight="bold" text-anchor="middle" fill="#000" transform="rotate(-90 387.30 79.50)">Survival rate (%)</text>
<line x1="231.50" y1="185.80" x2="231.50" y2="287.10" stroke="#000" stroke-width="1.1"/>
<line x1="229.20" y1="286.60" x2="231.50" y2="286.60" stroke="#000" stroke-width="1"/>
<text x="228.20" y="289.59" font-size="8.3" font-weight="bold" text-anchor="end" fill="#000">0</text>
<line x1="229.20" y1="266.44" x2="231.50" y2="266.44" stroke="#000" stroke-width="1"/>
<text x="228.20" y="269.43" font-size="8.3" font-weight="bold" text-anchor="end" fill="#000">40</text>
<line x1="229.20" y1="246.28" x2="231.50" y2="246.28" stroke="#000" stroke-width="1"/>
<text x="228.20" y="249.27" font-size="8.3" font-weight="bold" text-anchor="end" fill="#000">80</text>
<line x1="229.20" y1="226.12" x2="231.50" y2="226.12" stroke="#000" stroke-width="1"/>
<text x="228.20" y="229.11" font-size="8.3" font-weight="bold" text-anchor="end" fill="#000">120</text>
<line x1="229.20" y1="205.96" x2="231.50" y2="205.96" stroke="#000" stroke-width="1"/>
<text x="228.20" y="208.95" font-size="8.3" font-weight="bold" text-anchor="end" fill="#000">160</text>
<line x1="229.20" y1="185.80" x2="231.50" y2="185.80" stroke="#000" stroke-width="1"/>
<text x="228.20" y="188.79" font-size="8.3" font-weight="bold" text-anchor="end" fill="#000">200</text>
<line x1="231.00" y1="286.60" x2="382.70" y2="286.60" stroke="#000" stroke-width="1.1"/>
<line x1="242.60" y1="200.42" x2="242.60" y2="215.54" stroke="#000" stroke-width="1.1"/>
<line x1="240.30" y1="200.42" x2="244.90" y2="200.42" stroke="#000" stroke-width="1.1"/>
<rect x="238.00" y="215.54" width="9.20" height="71.06" fill="#fff" stroke="#000" stroke-width="1.45"/>
<line x1="242.60" y1="286.60" x2="242.60" y2="289.20" stroke="#000" stroke-width="1"/>
<text class="lt" x="242.60" y="197.92" font-size="9.2" text-anchor="middle">a</text>
<text x="245.20" y="298.00" font-size="8.3" font-weight="bold" text-anchor="end" transform="rotate(-45 245.20 298.00)">CT</text>
<line x1="258.84" y1="221.08" x2="258.84" y2="234.18" stroke="#000" stroke-width="1.1"/>
<line x1="256.54" y1="221.08" x2="261.14" y2="221.08" stroke="#000" stroke-width="1.1"/>
<rect x="254.24" y="234.18" width="9.20" height="52.42" fill="#3dbaa2" stroke="#000" stroke-width="1.45"/>
<line x1="258.84" y1="286.60" x2="258.84" y2="289.20" stroke="#000" stroke-width="1"/>
<text class="lt" x="258.84" y="218.58" font-size="9.2" text-anchor="middle">b</text>
<text x="261.44" y="298.00" font-size="8.3" font-weight="bold" text-anchor="end" transform="rotate(-45 261.44 298.00)">0.0125</text>
<line x1="275.08" y1="233.18" x2="275.08" y2="242.25" stroke="#000" stroke-width="1.1"/>
<line x1="272.78" y1="233.18" x2="277.38" y2="233.18" stroke="#000" stroke-width="1.1"/>
<rect x="270.48" y="242.25" width="9.20" height="44.35" fill="#6e6e6e" stroke="#000" stroke-width="1.45"/>
<line x1="275.08" y1="286.60" x2="275.08" y2="289.20" stroke="#000" stroke-width="1"/>
<text class="lt" x="275.08" y="230.68" font-size="9.2" text-anchor="middle">bc</text>
<text x="277.68" y="298.00" font-size="8.3" font-weight="bold" text-anchor="end" transform="rotate(-45 277.68 298.00)">0.025</text>
<line x1="291.32" y1="247.54" x2="291.32" y2="254.09" stroke="#000" stroke-width="1.1"/>
<line x1="289.02" y1="247.54" x2="293.62" y2="247.54" stroke="#000" stroke-width="1.1"/>
<rect x="286.72" y="254.09" width="9.20" height="32.51" fill="#f7a31c" stroke="#000" stroke-width="1.45"/>
<line x1="291.32" y1="286.60" x2="291.32" y2="289.20" stroke="#000" stroke-width="1"/>
<text class="lt" x="291.32" y="245.04" font-size="9.2" text-anchor="middle">cd</text>
<text x="293.92" y="298.00" font-size="8.3" font-weight="bold" text-anchor="end" transform="rotate(-45 293.92 298.00)">0.050</text>
<line x1="307.56" y1="255.10" x2="307.56" y2="262.41" stroke="#000" stroke-width="1.1"/>
<line x1="305.26" y1="255.10" x2="309.86" y2="255.10" stroke="#000" stroke-width="1.1"/>
<rect x="302.96" y="262.41" width="9.20" height="24.19" fill="#f68d21" stroke="#000" stroke-width="1.45"/>
<line x1="307.56" y1="286.60" x2="307.56" y2="289.20" stroke="#000" stroke-width="1"/>
<text class="lt" x="307.56" y="252.60" font-size="9.2" text-anchor="middle">de</text>
<text x="310.16" y="298.00" font-size="8.3" font-weight="bold" text-anchor="end" transform="rotate(-45 310.16 298.00)">0.075</text>
<line x1="323.80" y1="272.69" x2="323.80" y2="274.81" stroke="#000" stroke-width="1.1"/>
<line x1="321.50" y1="272.69" x2="326.10" y2="272.69" stroke="#000" stroke-width="1.1"/>
<rect x="319.20" y="274.81" width="9.20" height="11.79" fill="#0000ee" stroke="#000" stroke-width="1.45"/>
<line x1="323.80" y1="286.60" x2="323.80" y2="289.20" stroke="#000" stroke-width="1"/>
<text class="lt" x="323.80" y="270.19" font-size="9.2" text-anchor="middle">ef</text>
<text x="326.40" y="298.00" font-size="8.3" font-weight="bold" text-anchor="end" transform="rotate(-45 326.40 298.00)">0.100</text>
<line x1="340.04" y1="278.79" x2="340.04" y2="283.22" stroke="#000" stroke-width="1.1"/>
<line x1="337.74" y1="278.79" x2="342.34" y2="278.79" stroke="#000" stroke-width="1.1"/>
<rect x="335.44" y="283.22" width="9.20" height="3.38" fill="#5a5aff" stroke="#000" stroke-width="1.45"/>
<line x1="340.04" y1="286.60" x2="340.04" y2="289.20" stroke="#000" stroke-width="1"/>
<text class="lt" x="340.04" y="276.29" font-size="9.2" text-anchor="middle">f</text>
<text x="342.64" y="298.00" font-size="8.3" font-weight="bold" text-anchor="end" transform="rotate(-45 342.64 298.00)">0.125</text>
<line x1="356.28" y1="286.60" x2="356.28" y2="289.20" stroke="#000" stroke-width="1"/>
<text class="lt" x="356.28" y="284.10" font-size="9.2" text-anchor="middle">f</text>
<text x="358.88" y="298.00" font-size="8.3" font-weight="bold" text-anchor="end" transform="rotate(-45 358.88 298.00)">0.150</text>
<line x1="372.52" y1="286.60" x2="372.52" y2="289.20" stroke="#000" stroke-width="1"/>
<text class="lt" x="372.52" y="284.10" font-size="9.2" text-anchor="middle">f</text>
<text x="375.12" y="298.00" font-size="8.3" font-weight="bold" text-anchor="end" transform="rotate(-45 375.12 298.00)">0.175</text>
<text x="308.00" y="329.23" font-size="9.8" font-weight="bold" text-anchor="middle" fill="#000">PAE concentration (mL/L air)</text>
<text x="203.00" y="238.14" font-size="9.8" font-weight="bold" text-anchor="middle" transform="rotate(-90 203.00 235.20)">Spore production (10<tspan font-size="6" dy="-2.9">6</tspan><tspan dy="2.9">)</tspan></text>
<line x1="415.60" y1="186.32" x2="415.60" y2="287.50" stroke="#000" stroke-width="1.1"/>
<line x1="413.30" y1="287.00" x2="415.60" y2="287.00" stroke="#000" stroke-width="1"/>
<text x="412.30" y="289.81" font-size="7.8" font-weight="bold" text-anchor="end" fill="#000">0</text>
<line x1="413.30" y1="270.22" x2="415.60" y2="270.22" stroke="#000" stroke-width="1"/>
<text x="412.30" y="273.03" font-size="7.8" font-weight="bold" text-anchor="end" fill="#000">20</text>
<line x1="413.30" y1="253.44" x2="415.60" y2="253.44" stroke="#000" stroke-width="1"/>
<text x="412.30" y="256.25" font-size="7.8" font-weight="bold" text-anchor="end" fill="#000">40</text>
<line x1="413.30" y1="236.66" x2="415.60" y2="236.66" stroke="#000" stroke-width="1"/>
<text x="412.30" y="239.47" font-size="7.8" font-weight="bold" text-anchor="end" fill="#000">60</text>
<line x1="413.30" y1="219.88" x2="415.60" y2="219.88" stroke="#000" stroke-width="1"/>
<text x="412.30" y="222.69" font-size="7.8" font-weight="bold" text-anchor="end" fill="#000">80</text>
<line x1="413.30" y1="203.10" x2="415.60" y2="203.10" stroke="#000" stroke-width="1"/>
<text x="412.30" y="205.91" font-size="7.8" font-weight="bold" text-anchor="end" fill="#000">100</text>
<line x1="413.30" y1="186.32" x2="415.60" y2="186.32" stroke="#000" stroke-width="1"/>
<text x="412.30" y="189.13" font-size="7.8" font-weight="bold" text-anchor="end" fill="#000">120</text>
<line x1="415.10" y1="287.00" x2="524.50" y2="287.00" stroke="#000" stroke-width="1.1"/>
<line x1="430.40" y1="197.14" x2="430.40" y2="203.86" stroke="#000" stroke-width="1.1"/>
<line x1="427.40" y1="197.14" x2="433.40" y2="197.14" stroke="#000" stroke-width="1.1"/>
<rect x="424.10" y="203.86" width="12.60" height="83.14" fill="#fff" stroke="#000" stroke-width="1.45"/>
<line x1="430.40" y1="287.00" x2="430.40" y2="289.60" stroke="#000" stroke-width="1"/>
<text class="lt" x="430.40" y="192.94" font-size="9.2" text-anchor="middle">a</text>
<text x="430.50" y="301.29" font-size="8.3" font-weight="bold" text-anchor="end" fill="#000">CT</text>
<line x1="453.00" y1="230.54" x2="453.00" y2="234.81" stroke="#000" stroke-width="1.1"/>
<line x1="450.00" y1="230.54" x2="456.00" y2="230.54" stroke="#000" stroke-width="1.1"/>
<rect x="446.70" y="234.81" width="12.60" height="52.19" fill="#6b6b6b" stroke="#000" stroke-width="1.45"/>
<line x1="453.00" y1="287.00" x2="453.00" y2="289.60" stroke="#000" stroke-width="1"/>
<text class="lt" x="453.00" y="226.34" font-size="9.2" text-anchor="middle">b</text>
<text x="453.10" y="301.29" font-size="8.3" font-weight="bold" text-anchor="end" fill="#000">0.025</text>
<line x1="475.60" y1="238.76" x2="475.60" y2="242.28" stroke="#000" stroke-width="1.1"/>
<line x1="472.60" y1="238.76" x2="478.60" y2="238.76" stroke="#000" stroke-width="1.1"/>
<rect x="469.30" y="242.28" width="12.60" height="44.72" fill="#4d4dff" stroke="#000" stroke-width="1.45"/>
<line x1="475.60" y1="287.00" x2="475.60" y2="289.60" stroke="#000" stroke-width="1"/>
<text class="lt" x="475.60" y="234.56" font-size="9.2" text-anchor="middle">c</text>
<text x="475.70" y="301.29" font-size="8.3" font-weight="bold" text-anchor="end" fill="#000">0.050</text>
<line x1="498.20" y1="260.07" x2="498.20" y2="265.27" stroke="#000" stroke-width="1.1"/>
<line x1="495.20" y1="260.07" x2="501.20" y2="260.07" stroke="#000" stroke-width="1.1"/>
<rect x="491.90" y="265.27" width="12.60" height="21.73" fill="#f68d21" stroke="#000" stroke-width="1.45"/>
<line x1="498.20" y1="287.00" x2="498.20" y2="289.60" stroke="#000" stroke-width="1"/>
<text class="lt" x="498.20" y="255.87" font-size="9.2" text-anchor="middle">d</text>
<text x="498.30" y="301.29" font-size="8.3" font-weight="bold" text-anchor="end" fill="#000">0.100</text>
<line x1="520.80" y1="287.00" x2="520.80" y2="289.60" stroke="#000" stroke-width="1"/>
<text class="lt" x="520.80" y="282.80" font-size="9.2" text-anchor="middle">e</text>
<text x="520.90" y="301.29" font-size="8.3" font-weight="bold" text-anchor="end" fill="#000">0.150</text>
<text x="475.50" y="314.13" font-size="9.8" font-weight="bold" text-anchor="middle" fill="#000">PAE concentration (mL/L air)</text>
<text x="388.60" y="238.54" font-size="9.8" font-weight="bold" text-anchor="middle" fill="#000" transform="rotate(-90 388.60 235.60)">Survival rate (%)</text>
</svg></body></html>
